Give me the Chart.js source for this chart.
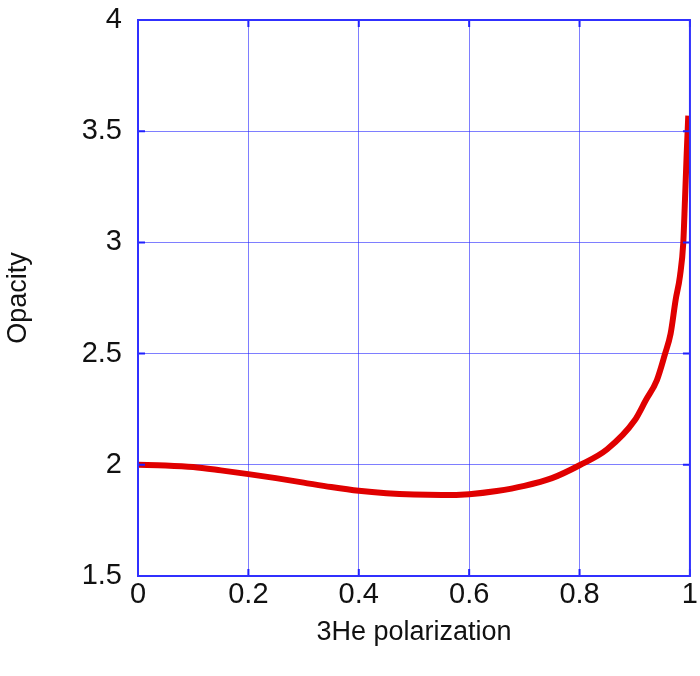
<!DOCTYPE html>
<html>
<head>
<meta charset="utf-8">
<script src="https://cdn.jsdelivr.net/npm/chart.js@4"></script>
<style>
html,body{margin:0;padding:0;background:#fff;}
#wrap{width:700px;height:676px;position:relative;}
</style>
</head>
<body>
<div id="wrap"><canvas id="c" width="700" height="676"></canvas></div>
<script>
const polarization = [0,0.05,0.1,0.15,0.2,0.25,0.3,0.35,0.4,0.45,0.5,0.55,0.6,0.65,0.7,0.75,0.8,0.85,0.9,0.92,0.94,0.955,0.965,0.974,0.982,0.988,0.991,0.994,0.997];
const opacity = [2.0,1.997,1.99,1.975,1.958,1.94,1.92,1.90,1.883,1.872,1.866,1.864,1.868,1.882,1.905,1.94,1.998,2.07,2.2,2.29,2.38,2.5,2.59,2.74,2.85,3.0,3.19,3.39,3.57];
const xTicks = [0,0.2,0.4,0.6,0.8,1];
const yTicks = [1.5,2,2.5,3,3.5,4];
const xTitle = '3He polarization';
const yTitle = 'Opacity';

const points = polarization.map((x,i)=>({x:x,y:opacity[i]}));
const FONT = "'Liberation Sans', Arial, sans-serif";

const innerTicks = {
  id:'innerTicks',
  afterDatasetsDraw(chart){
    const ctx = chart.ctx, a = chart.chartArea;
    const xs = chart.scales.x, ys = chart.scales.y;
    ctx.save();
    ctx.strokeStyle = '#2020ff';
    ctx.lineWidth = 2;
    ctx.beginPath();
    xTicks.forEach(v=>{
      const px = xs.getPixelForValue(v);
      ctx.moveTo(px,a.bottom); ctx.lineTo(px,a.bottom-7);
      ctx.moveTo(px,a.top); ctx.lineTo(px,a.top+7);
    });
    yTicks.forEach(v=>{
      const py = ys.getPixelForValue(v);
      ctx.moveTo(a.left,py); ctx.lineTo(a.left+7,py);
      ctx.moveTo(a.right,py); ctx.lineTo(a.right-7,py);
    });
    ctx.stroke();
    ctx.strokeStyle = '#3030ff';
    ctx.lineWidth = 2;
    ctx.strokeRect(a.left,a.top,a.right-a.left,a.bottom-a.top);
    ctx.restore();
  }
};

new Chart(document.getElementById('c'),{
  type:'line',
  data:{datasets:[{
    data:points,
    borderColor:'#e00000',
    borderWidth:6,
    pointRadius:0,
    fill:false,
    cubicInterpolationMode:'monotone'
  }]},
  options:{
    responsive:false,
    animation:false,
    devicePixelRatio:1,
    layout:{padding:{top:20,right:0,left:0,bottom:0}},
    plugins:{legend:{display:false},tooltip:{enabled:false}},
    scales:{
      x:{
        type:'linear',min:0,max:1,
        afterBuildTicks(s){s.ticks = xTicks.map(v=>({value:v}));},
        afterFit(s){s.height = 100;},
        grid:{color:'rgba(40,40,255,0.6)',borderDash:[1,1],lineWidth:1,drawTicks:false},
        border:{display:false},
        ticks:{color:'#111',font:{family:FONT,size:29},padding:2,maxRotation:0,
          callback:(v)=>String(v)},
        title:{display:true,text:xTitle,color:'#111',font:{family:FONT,size:27},padding:{top:0,bottom:27}}
      },
      y:{
        type:'linear',min:1.5,max:4,
        afterBuildTicks(s){s.ticks = yTicks.map(v=>({value:v}));},
        afterFit(s){s.width = 138; s.paddingTop = 0; s.paddingBottom = 0;},
        grid:{color:'rgba(40,40,255,0.6)',borderDash:[1,1],lineWidth:1,drawTicks:false},
        border:{display:false},
        ticks:{color:'#111',font:{family:FONT,size:29},padding:16,
          callback:(v)=>String(v)},
        title:{display:true,text:yTitle,color:'#111',font:{family:FONT,size:27},padding:{top:2,bottom:0}}
      }
    }
  },
  plugins:[innerTicks]
});
</script>
</body>
</html>
